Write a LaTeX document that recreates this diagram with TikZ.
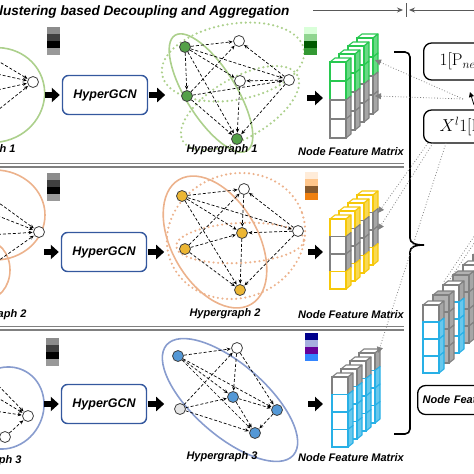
\documentclass[tikz,border=0pt]{standalone}
\usepackage{fontspec}
\newfontfamily\labfont{Liberation Sans}
\usepackage{tikz}
\usetikzlibrary{arrows.meta}

\definecolor{gnode}{RGB}{84,160,72}
\definecolor{gedge}{RGB}{172,208,140}
\definecolor{gmat}{RGB}{40,200,80}
\definecolor{onode}{RGB}{236,182,52}
\definecolor{oedge}{RGB}{236,178,140}
\definecolor{omat}{RGB}{246,200,10}
\definecolor{bnode}{RGB}{84,152,214}
\definecolor{bedge}{RGB}{136,156,206}
\definecolor{bmat}{RGB}{40,176,230}
\definecolor{gcnblue}{RGB}{52,88,158}

\tikzset{
    vtx/.style={circle,draw=black!75,fill=#1,line width=0.8pt,minimum size=11pt,inner sep=0pt},
    vtx/.default=white,
    hedge/.style={densely dashed,line width=0.7pt,-{Stealth[length=4pt,width=3.5pt]},shorten >=0.5pt},
    dots/.style={line width=2.4pt,line cap=round,dash pattern=on 0pt off 4.6pt},
    gcn/.style={draw=gcnblue,line width=1.4pt,rounded corners=6pt,minimum width=85pt,minimum height=39pt,
        font=\labfont\bfseries\itshape\fontsize{12.5}{13}\selectfont},
    fat/.style={line width=6pt,-{Triangle[length=8pt,width=14pt]}},
    lab/.style={font=\labfont\bfseries\itshape\fontsize{11}{12}\selectfont},
    link/.style={gray,dotted,line width=0.8pt,-{Triangle[length=6pt,width=6pt]}},
    sep/.style={draw=gray,line width=1.3pt,double=white,double distance=2.4pt},
    rbox/.style={draw,line width=1.3pt,rounded corners=8pt,text width=150pt,inner xsep=16pt,align=left,anchor=west}
}

\def\cw{16}\def\cdx{5}\def\cdy{4}
\newcommand{\featcol}[5]{% x, y, cell height, face fill, row colours
    \foreach \cl [count=\r from 0] in {#5}{
            \ifnum\r=0
                \draw[\cl,line width=1.1pt,line join=round,fill=#4] (#1,#2)--++(\cdx,-\cdy)--++(\cw,0)--++(-\cdx,\cdy)--cycle;
            \fi
            \draw[\cl,line width=1.1pt,line join=round,fill=\cl!70] (#1+\cw,#2+\r*#3)--++(\cdx,-\cdy)--++(0,#3)--++(-\cdx,\cdy)--cycle;
            \draw[\cl,line width=1.1pt,fill=#4] (#1,#2+\r*#3) rectangle ++(\cw,#3);
        }
}
\newcommand{\featmat}[4]{% x, y, cell height, row colours
    \foreach \k in {3,2,1,0}{\featcol{#1+9*\k}{#2-8*\k}{#3}{white}{#4}}
}

\begin{document}
\begin{tikzpicture}[x=1pt,y=-1pt]
    \useasboundingbox (0,0) rectangle (474,474);
    \clip (0,0) rectangle (474,474);

    % title and time line
    \node[font=\labfont\bfseries\itshape\fontsize{13.6}{14}\selectfont,anchor=base east] (title) at (293,15) {Clustering based Decoupling and Aggregation};
    \coordinate (t0) at (313,10);
    \coordinate (t1) at (406,10);
    \coordinate (t2) at (480,10);
    \draw[gray!70!black,line width=0.9pt,-{Stealth[length=6pt,width=5pt]}] (t0) -- ([xshift=-3pt]t1);
    \draw[gray!70!black,line width=0.9pt] ([yshift=7pt]t1) -- ([yshift=-7pt]t1);
    \draw[gray!70!black,line width=0.9pt,-{Stealth[length=6pt,width=5pt]}] (t2) -- ([xshift=3pt]t1);

    % row separators
    \foreach \y in {165,328}
        \draw[sep] (0,\y) -- (404,\y);

    % ---------- row 1 ----------
    \draw[gedge,line width=1.6pt,rotate around={20:(-5,95)}] (-5,95) ellipse [x radius=50pt,y radius=47pt];
    \node[vtx] (p1) at (33,82) {};
    \foreach \i/\y in {1/55,2/72,3/92,4/118}{
            \coordinate (l1\i) at (-12,\y);
            \draw[hedge] (l1\i) -- (p1);
        }
    \node[lab,anchor=east] (hl1) at (19,150) {Hypergraph 1};

    \foreach \cl [count=\r from 0] in {black!45,black!75,black,black!40}
        \fill[\cl] (47,27+7*\r) rectangle ++(13,7.2);
    \node[gcn] (gcn1) at (105,95) {HyperGCN};
    \draw[fat] ([xshift=-17pt]gcn1.west) -- ([xshift=-2pt]gcn1.west);
    \draw[fat] ([xshift=1pt]gcn1.east) -- ([xshift=17pt]gcn1.east);

    \draw[gedge,line width=1.6pt,rotate around={-58:(211,93)}] (211,93) ellipse [x radius=68pt,y radius=25pt];
    \draw[gedge,dots,rotate around={10:(233,62)}] (233,62) ellipse [x radius=72pt,y radius=38pt];
    \draw[gedge,dots,rotate around={30:(240,108)}] (240,108) ellipse [x radius=66pt,y radius=30pt];
    \foreach \n/\x/\y/\c in {g1/185/47/gnode,g2/187/96/gnode,g3/237/139/gnode,w1/239/41/white,w2/240/81/white,w3/289/80/white}
        \node[vtx=\c] (\n) at (\x,\y) {};
    \foreach \a/\b in {g1/w1,g1/w2,g1/w3,g1/g2,g1/g3,g2/w1,g2/w3,g2/g3,w3/w1,w3/w2,w3/g3,w2/g3}
        \draw[hedge] (\a) -- (\b);
    \node[lab] (hg1) at (222,150) {Hypergraph 1};

    \foreach \cl [count=\r from 0] in {green!15!white,green!45!gray!60,green!35!black,green!50!black!80}
        \fill[\cl] (304,27+7*\r) rectangle ++(13,7.2);
    \coordinate (m1) at (330,98);
    \draw[fat] ([xshift=-23pt]m1) -- ([xshift=-7pt]m1);
    \featmat{330}{62}{19}{gmat,gmat,gray,gray}
    \node[lab] (nf1) at (351,152) {Node Feature Matrix};

    % ---------- row 2 ----------
    \draw[oedge,line width=1.6pt] (-5,215) ellipse [x radius=50pt,y radius=45pt];
    \draw[oedge,line width=1.6pt] (-15,270) ellipse [x radius=25pt,y radius=30pt];
    \node[vtx] (p2) at (39,232) {};
    \foreach \i/\y in {1/195,2/212,3/235,4/268}{
            \coordinate (l2\i) at (-12,\y);
            \draw[hedge] (l2\i) -- (p2);
        }
    \node[lab,anchor=east] (hl2) at (30,315) {Hypergraph 2};

    \foreach \cl [count=\r from 0] in {black!45,black!75,black,black!40}
        \fill[\cl] (47,173+7*\r) rectangle ++(13,7.2);
    \node[gcn] (gcn2) at (104,252) {HyperGCN};
    \draw[fat] ([xshift=-17pt]gcn2.west) -- ([xshift=-2pt]gcn2.west);
    \draw[fat] ([xshift=1pt]gcn2.east) -- ([xshift=17pt]gcn2.east);

    \draw[oedge,line width=1.6pt,rotate around={-60:(215,242)}] (215,242) ellipse [x radius=72pt,y radius=43pt];
    \draw[oedge,dots,rotate around={20:(236,236)}] (236,236) ellipse [x radius=70pt,y radius=62pt];
    \draw[oedge,dots,rotate around={3:(240,243)}] (240,243) ellipse [x radius=64pt,y radius=20pt];
    \foreach \n/\x/\y/\c in {y1/182/196/onode,y2/185/249/onode,y3/242/233/onode,y4/240/290/onode,u1/244/189/white,u2/298/231/white}
        \node[vtx=\c] (\n) at (\x,\y) {};
    \foreach \a/\b in {y1/u1,y1/y3,y1/u2,y1/y4,y2/u1,y2/y3,y2/y4,u2/u1,u2/y3,u2/y4,y3/y4,u1/y3}
        \draw[hedge] (\a) -- (\b);
    \node[lab] (hg2) at (225,314) {Hypergraph 2};

    \foreach \cl [count=\r from 0] in {orange!15!white,orange!45!white,brown!70!black,orange!75!brown}
        \fill[\cl] (305,172+7*\r) rectangle ++(13,7.2);
    \coordinate (m2) at (330,252);
    \draw[fat] ([xshift=-22pt]m2) -- ([xshift=-7pt]m2);
    \featmat{330}{219}{17.5}{omat,gray,gray,omat}
    \node[lab] (nf2) at (351,315) {Node Feature Matrix};

    % ---------- row 3 ----------
    \draw[bedge,line width=1.6pt,rotate around={-30:(5,408)}] (5,408) ellipse [x radius=38pt,y radius=42pt];
    \node[vtx] (p3) at (28,416) {};
    \node[vtx] (p4) at (5,437) {};
    \foreach \i/\y in {1/375,2/392,3/410}{
            \coordinate (l3\i) at (-12,\y);
            \draw[hedge] (l3\i) -- (p3);
        }
    \coordinate (l34) at (-12,425);
    \draw[hedge] (l34) -- (p4);
    \draw[hedge] (p4) -- (p3);
    \node[lab,anchor=east] (hl3) at (25,461) {Hypergraph 3};

    \foreach \cl [count=\r from 0] in {black!45,black!75,black,black!40}
        \fill[\cl] (46,338+7*\r) rectangle ++(13,7.2);
    \node[gcn] (gcn3) at (104,404) {HyperGCN};
    \draw[fat] ([xshift=-17pt]gcn3.west) -- ([xshift=-2pt]gcn3.west);
    \draw[fat] ([xshift=1pt]gcn3.east) -- ([xshift=17pt]gcn3.east);

    \draw[bedge,line width=1.6pt,rotate around={-41:(230,400)}] (230,400) ellipse [x radius=84pt,y radius=36pt];
    \foreach \n/\x/\y/\c in {b1/178/356/bnode,v1/237/348/white,v2/180/409/white!90!black,b2/233/397/bnode,b3/277/410/bnode,b4/255/433/bnode}
        \node[vtx=\c] (\n) at (\x,\y) {};
    \foreach \a/\b in {b1/v1,b1/b2,b1/b3,b1/b4,v2/v1,v2/b2,v2/b4,v1/b3,b2/b3,b2/b4,b3/b4,v1/b2}
        \draw[hedge] (\a) -- (\b);
    \node[lab] (hg3) at (222,457) {Hypergraph 3};

    \foreach \cl [count=\r from 0] in {blue!55!black,cyan!30!blue!35!white,violet!80!blue,blue!60!cyan!80}
        \fill[\cl] (305,333+7*\r) rectangle ++(13,7.2);
    \coordinate (m3) at (332,404);
    \draw[fat] ([xshift=-24pt]m3) -- ([xshift=-9pt]m3);
    \featmat{332}{377}{17.5}{gray,bmat,bmat,bmat}
    \node[lab] (nf3) at (351,458) {Node Feature Matrix};

    % ---------- aggregation ----------
    \draw[line width=1.6pt] (394,52) -- (405,52) to[out=0,in=90] (410,57) -- (410,238)
        .. controls (410,243) and (415,245) .. (424,245)
        .. controls (415,245) and (410,247) .. (410,252) -- (410,429) to[out=-90,in=0] (405,434) -- (394,434);

    \featcol{473}{255}{17}{gray!60}{gray,gray,gray,gray}
    \featcol{463}{265}{17}{white}{gray,bmat,bmat,bmat}
    \featcol{453}{275}{17}{gray!60}{gray,gray,gray,gray}
    \featcol{443}{285}{17}{white}{gray,bmat,bmat,bmat}
    \featcol{433}{295}{17}{gray!60}{gray,gray,gray,gray}
    \featcol{423}{305}{17}{white}{gray,bmat,bmat,bmat}

    \node[rbox,minimum height=37pt,font=\fontsize{17}{17}\selectfont] (pbox) at (423,61.5) {$1[\mathrm{P}_{new}]$};
    \node[rbox,minimum height=33pt,font=\fontsize{17}{17}\selectfont] (xbox) at (423,126.5) {$X^{l}1[\mathrm{P}_{new}]$};
    \node[rbox,minimum height=29pt,inner xsep=5pt,lab] (nbox) at (417,400) {Node Feature Matrix};

    \coordinate (ua) at (474,105);
    \coordinate (ub) at (470,92);
    \draw[line width=0.8pt,-{Triangle[length=5pt,width=5pt]}] (ua) -- (ub);

    \coordinate (xs) at (463,99);
    \coordinate (xb1) at (428,143);
    \coordinate (xb2) at (433,143);
    \coordinate (xb3) at (446,143);
    \coordinate (xr1) at (505,190);
    \coordinate (xr2) at (510,190);
    \coordinate (mg1) at (375,60);
    \coordinate (mg2) at (375,96);
    \coordinate (mo1) at (378,213);
    \coordinate (mo2) at (378,230);
    \coordinate (mb1) at (378,353);
    \coordinate (st1) at (443,283);
    \coordinate (st2) at (448,282);
    \foreach \a/\b in {xs/mg1,xs/mg2,xb1/mo1,xb2/mo2,xb3/mb1}
        \draw[link] (\a) -- (\b);
    \draw[gray,dotted,line width=0.8pt] (xr1) -- (st1);
    \draw[gray,dotted,line width=0.8pt] (xr2) -- (st2);
\end{tikzpicture}
\end{document}
